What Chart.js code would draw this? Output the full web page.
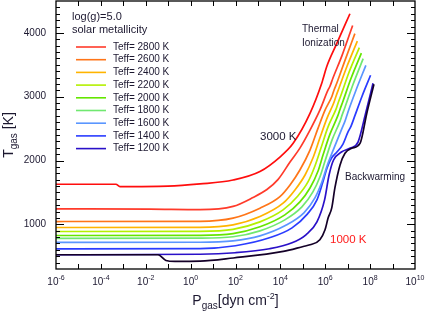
<!DOCTYPE html>
<html>
<head>
<meta charset="utf-8">
<script src="https://cdn.jsdelivr.net/npm/chart.js@4/dist/chart.umd.min.js"></script>
<style>
  html, body { margin: 0; padding: 0; background: #fff; }
</style>
</head>
<body>
<canvas id="c" width="427" height="313"></canvas>
<script>
// log10(P_gas / dyn cm^-2) and T_gas [K] along each model atmosphere
const logP3000 = [-6, -3.33, -3.15, -1.01, 0.42, 1.89, 3.09, 3.98, 4.57, 5.32, 5.84, 5.91, 6.06, 6.51, 7.10];
const T3000    = [1628, 1628, 1591, 1598, 1633, 1695, 1828, 2055, 2269, 2738, 3206, 3289, 3466, 3831, 4300];

const logP2800 = [-6, -1.81, 0.42, 1.89, 2.78, 3.40, 3.89, 4.43, 4.87, 5.32, 5.76, 6.12, 6.21, 6.34, 6.75, 7.22];
const T2800    = [1242, 1238, 1230, 1281, 1420, 1545, 1700, 1977, 2195, 2477, 2789, 3102, 3164, 3289, 3648, 4117];

const logP2600 = [-6, 0.42, 1.89, 3.09, 3.98, 4.43, 4.87, 5.32, 5.68, 5.99, 6.30, 6.39, 6.53, 6.88, 7.32];
const T2600    = [1044, 1047, 1097, 1253, 1434, 1617, 1852, 2164, 2508, 2789, 3008, 3102, 3227, 3570, 3988];

const logP2400 = [-6, 0.42, 1.89, 3.09, 4.12, 4.65, 5.10, 5.45, 5.76, 6.08, 6.39, 6.48, 6.61, 6.97, 7.43];
const T2400    = [950, 953, 992, 1122, 1331, 1539, 1773, 2039, 2352, 2664, 2914, 3008, 3133, 3477, 3872];

const logP2200 = [-6, 0.42, 1.89, 3.09, 4.12, 4.78, 5.23, 5.54, 5.81, 6.12, 6.48, 6.57, 6.70, 7.06, 7.52];
const T2200    = [888, 891, 922, 1039, 1227, 1445, 1664, 1914, 2195, 2523, 2805, 2898, 3023, 3383, 3769];

const logP2000 = [-6, 0.42, 1.89, 3.09, 4.20, 4.87, 5.32, 5.68, 5.90, 6.21, 6.57, 6.66, 6.79, 7.15, 7.61];
const T2000    = [825, 828, 855, 961, 1148, 1352, 1570, 1836, 2086, 2414, 2711, 2805, 2930, 3289, 3684];

const logP1800 = [-6, 0.42, 1.89, 3.09, 4.20, 4.96, 5.45, 5.76, 5.99, 6.30, 6.66, 6.75, 6.88, 7.24, 7.69];
const T1800    = [781, 784, 805, 898, 1070, 1273, 1508, 1742, 1992, 2320, 2617, 2711, 2836, 3195, 3597];

const logP1600 = [-6, 0.42, 1.89, 3.09, 4.20, 5.05, 5.54, 5.85, 6.08, 6.39, 6.75, 6.88, 7.01, 7.37, 7.81];
const T1600    = [716, 719, 742, 820, 977, 1180, 1414, 1664, 1914, 2195, 2508, 2617, 2758, 3102, 3492];

const logP1400 = [-6, 0.42, 2.0, 3.51, 4.52, 5.21, 5.63, 5.88, 6.08, 6.28, 6.52, 6.79, 7.01, 7.15, 7.33, 7.64, 8.02];
const T1400    = [614, 620, 664, 789, 945, 1164, 1383, 1648, 1883, 2039, 2133, 2258, 2445, 2539, 2711, 3008, 3336];

const logP1200 = [-6, 0.42, 2.0, 3.51, 4.52, 5.14, 5.63, 5.97, 6.17, 6.37, 6.72, 7.12, 7.46, 7.79, 8.13];
const T1200    = [523, 531, 555, 617, 711, 836, 1039, 1383, 1773, 2008, 2133, 2195, 2289, 2727, 3211];

const logP1000 = [-6, -1.45, -1.10, -0.70, 0.42, 1.90, 4.13, 5.02, 5.32, 5.76, 5.99, 6.13, 6.29, 6.43, 6.66, 6.88, 7.18, 7.55, 7.85, 8.17];
const T1000    = [523, 523, 434, 419, 422, 472, 575, 653, 680, 758, 914, 1102, 1258, 1570, 1930, 2113, 2191, 2269, 2738, 3195];

const teffs = [3000, 2800, 2600, 2400, 2200, 2000, 1800, 1600, 1400, 1200, 1000];
const legendTeffs = [2800, 2600, 2400, 2200, 2000, 1800, 1600, 1400, 1200];
const yTickValues = [1000, 2000, 3000, 4000];
const xLabelExps = [-6, -4, -2, 0, 2, 4, 6, 8, 10];

const colors = {
  3000: '#ff0d0d', 2800: '#ff3a2a', 2600: '#ff7518', 2400: '#ffb400', 2200: '#b4f000',
  2000: '#64e600', 1800: '#70e870', 1600: '#5a96ff', 1400: '#2a3cff', 1200: '#2a10c8', 1000: '#140028'
};

const profiles = {
  3000: [logP3000, T3000], 2800: [logP2800, T2800], 2600: [logP2600, T2600],
  2400: [logP2400, T2400], 2200: [logP2200, T2200], 2000: [logP2000, T2000],
  1800: [logP1800, T1800], 1600: [logP1600, T1600], 1400: [logP1400, T1400],
  1200: [logP1200, T1200], 1000: [logP1000, T1000]
};

const FONT = '"Liberation Sans", Arial, sans-serif';
const INK = '#1c1830';

const datasets = teffs.map((teff) => {
  const [lp, t] = profiles[teff];
  return {
    label: 'Teff= ' + teff + ' K',
    teff,
    data: lp.map((v, i) => ({ x: Math.pow(10, v), y: t[i] })),
    borderColor: colors[teff],
    borderWidth: 1.7,
    pointRadius: 0,
    cubicInterpolationMode: 'monotone',
    order: teff === 1000 ? -1 : 0,
  };
});

// text with raised/lowered smaller pieces, drawn left to right from x
function drawPieces(ctx, pieces, x, y) {
  pieces.forEach((p) => {
    ctx.font = p.size + 'px ' + FONT;
    ctx.fillText(p.text, x, y + (p.dy || 0));
    x += ctx.measureText(p.text).width;
  });
}
function piecesWidth(ctx, pieces) {
  return pieces.reduce((w, p) => {
    ctx.font = p.size + 'px ' + FONT;
    return w + ctx.measureText(p.text).width;
  }, 0);
}

const frame = {
  id: 'frame',
  afterDatasetsDraw(chart) {
    const { ctx, chartArea: a, scales: { x, y } } = chart;
    ctx.save();

    // box + inward ticks on all four sides
    ctx.strokeStyle = '#000';
    ctx.lineWidth = 1.3;
    ctx.strokeRect(a.left, a.top, a.right - a.left, a.bottom - a.top);
    ctx.lineWidth = 1;
    ctx.beginPath();
    for (let e = -5; e < 10; e++) {
      const px = Math.round(x.getPixelForValue(Math.pow(10, e))) + 0.5;
      ctx.moveTo(px, a.bottom); ctx.lineTo(px, a.bottom - 5);
      ctx.moveTo(px, a.top); ctx.lineTo(px, a.top + 5);
    }
    for (let t = 400; t < 4500; t += 100) {
      const py = Math.round(y.getPixelForValue(t)) + 0.5;
      const len = t % 1000 === 0 ? 8 : 4;
      ctx.moveTo(a.left, py); ctx.lineTo(a.left + len, py);
      ctx.moveTo(a.right, py); ctx.lineTo(a.right - len, py);
    }
    ctx.stroke();

    // x tick labels 10^n
    ctx.fillStyle = INK;
    ctx.textBaseline = 'alphabetic';
    ctx.textAlign = 'left';
    xLabelExps.forEach((e) => {
      const pieces = [
        { text: '10', size: 10 },
        { text: e < 0 ? '-' + (-e) : String(e), size: 7, dy: -5 },
      ];
      const w = piecesWidth(ctx, pieces);
      const px = x.getPixelForValue(Math.pow(10, e));
      drawPieces(ctx, pieces, px - w / 2, a.bottom + 16);
    });

    // x title
    const xt = [
      { text: 'P', size: 14 },
      { text: 'gas', size: 10, dy: 4 },
      { text: '[dyn cm', size: 14 },
      { text: '-2', size: 9, dy: -6 },
      { text: ']', size: 14 },
    ];
    drawPieces(ctx, xt, (a.left + a.right) / 2 - piecesWidth(ctx, xt) / 2, 305);

    // y title (rotated)
    ctx.save();
    ctx.translate(13, (a.top + a.bottom) / 2);
    ctx.rotate(-Math.PI / 2);
    const yt = [
      { text: 'T', size: 14 },
      { text: 'gas', size: 10, dy: 4 },
      { text: ' [K]', size: 14 },
    ];
    drawPieces(ctx, yt, -piecesWidth(ctx, yt) / 2, 0);
    ctx.restore();

    // legend inside the plot
    ctx.fillStyle = INK;
    ctx.font = '11px ' + FONT;
    ctx.textBaseline = 'middle';
    ctx.fillText('log(g)=5.0', 72, 17);
    ctx.fillText('solar metallicity', 72, 29.5);
    ctx.font = '10px ' + FONT;
    legendTeffs.forEach((teff, i) => {
      const ly = 47 + i * 12.7;
      ctx.strokeStyle = colors[teff];
      ctx.lineWidth = 1.6;
      ctx.beginPath();
      ctx.moveTo(76, ly); ctx.lineTo(106, ly);
      ctx.stroke();
      ctx.fillStyle = INK;
      ctx.fillText('Teff= ' + teff + ' K', 113, ly);
    });

    // notes
    ctx.font = '10px ' + FONT;
    ctx.fillText('Thermal', 302, 29);
    ctx.fillText('Ionization', 302, 43);
    ctx.fillText('Backwarming', 345, 177.5);
    ctx.font = '11.5px ' + FONT;
    ctx.fillText('3000 K', 260, 136.5);
    ctx.fillStyle = '#ff1a1a';
    ctx.fillText('1000 K', 330, 239.5);

    ctx.restore();
  }
};

new Chart(document.getElementById('c'), {
  type: 'line',
  data: { datasets },
  options: {
    responsive: false,
    animation: false,
    events: [],
    layout: { padding: { top: 1, right: 12, bottom: 0, left: 0 } },
    plugins: { legend: { display: false }, tooltip: { enabled: false } },
    scales: {
      x: {
        type: 'logarithmic',
        min: 1e-6,
        max: 1e10,
        grid: { display: false, drawTicks: false },
        border: { display: false },
        ticks: { display: false },
        afterFit: (s) => {
          s.height = 44;
          s.paddingLeft = 0; s.paddingRight = 0;
        },
      },
      y: {
        type: 'linear',
        min: 300,
        max: 4500,
        grid: { display: false, drawTicks: false },
        border: { display: false },
        afterBuildTicks: (s) => { s.ticks = yTickValues.map((v) => ({ value: v })); },
        ticks: {
          padding: 10,
          color: INK,
          font: { family: FONT, size: 10 },
          callback: (v) => String(v),
        },
        afterFit: (s) => {
          s.width = 56;
          s.paddingTop = 0; s.paddingBottom = 0;
        },
      },
    },
  },
  plugins: [frame],
});
</script>
</body>
</html>
